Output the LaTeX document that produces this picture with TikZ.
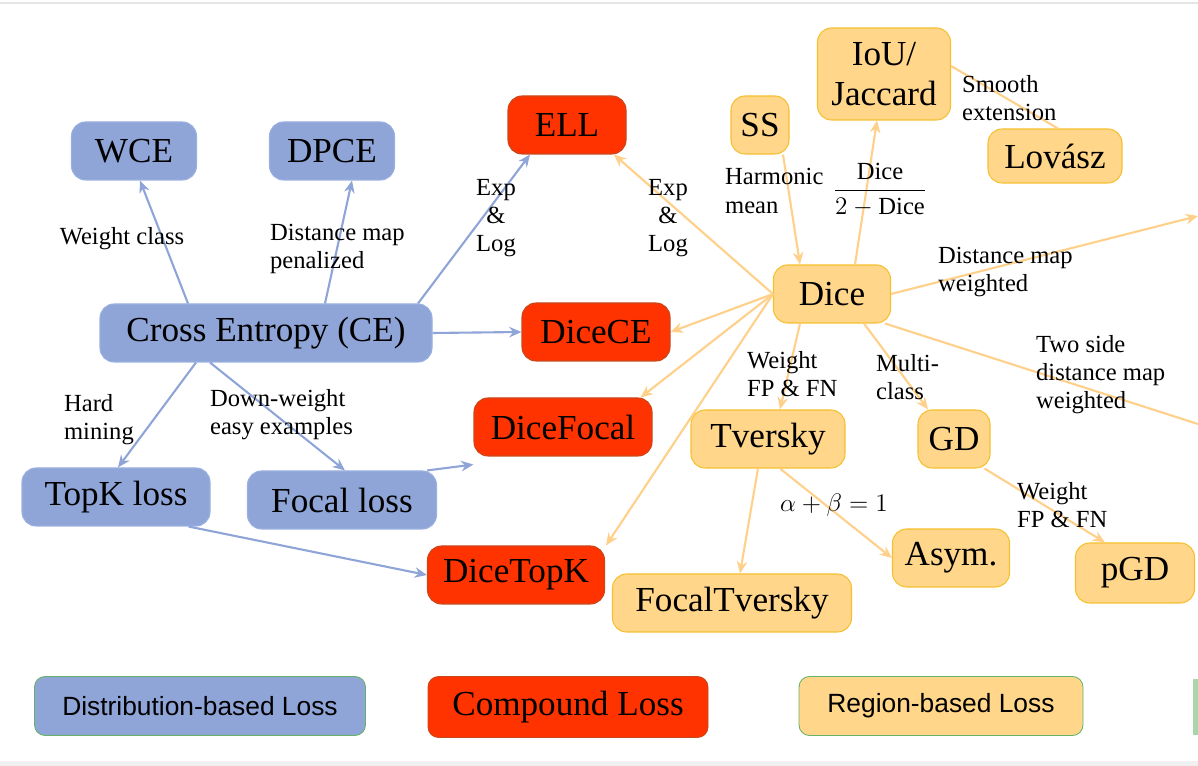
\documentclass[tikz,border=0pt]{standalone}
\usepackage{fontspec}
\usetikzlibrary{arrows.meta}
\setmainfont{Liberation Serif}
\newfontfamily\legsans{Liberation Sans}
\definecolor{bfill}{HTML}{8FA5D8}
\definecolor{bdraw}{HTML}{9AB0E0}
\definecolor{rfill}{HTML}{FF3300}
\definecolor{rdraw}{HTML}{C8481C}
\definecolor{ofill}{HTML}{FFD68A}
\definecolor{odraw}{HTML}{F5C030}
\definecolor{bline}{HTML}{8FA5D8}
\definecolor{oline}{HTML}{FFD08A}
\begin{document}
\begin{tikzpicture}[x=0.02cm,y=-0.02cm,
  bx/.style={rounded corners=8pt,minimum height=58*0.02cm,inner sep=2pt,font=\fontsize{20}{22}\selectfont,line width=0.6pt},
  blu/.style={bx,fill=bfill,draw=bdraw},
  red/.style={bx,fill=rfill,draw=rdraw},
  org/.style={bx,fill=ofill,draw=odraw},
  lab/.style={font=\fontsize{14}{16}\selectfont,align=left,inner sep=1pt},
  be/.style={draw=bline,line width=1.2pt,-{Stealth[length=7pt,width=6pt]}},
  oe/.style={draw=oline,line width=1.2pt,-{Stealth[length=7pt,width=6pt]}},
  leg/.style={rounded corners=6pt,minimum height=59*0.02cm,draw=green!50!black!60,line width=0.5pt}]
\useasboundingbox (0,0) rectangle (1198,766);
\draw[gray!20,line width=1pt] (0,3) -- (1198,3);
\fill[gray!12] (0,761) rectangle (1198,766);
% blue
\node[blu,minimum width=125*0.02cm] (wce) at (134,151) {WCE};
\node[blu,minimum width=125*0.02cm] (dpce) at (332,151) {DPCE};
\node[blu,minimum width=332*0.02cm] (ce) at (266,333) {Cross Entropy (CE)};
\node[blu,minimum width=188*0.02cm] (topk) at (116,497) {TopK loss};
\node[blu,minimum width=189*0.02cm] (focal) at (342,500) {Focal loss};
% red
\node[red,minimum width=118*0.02cm] (ell) at (567,125) {ELL};
\node[red,minimum width=148*0.02cm] (dicece) at (596,332) {DiceCE};
\node[red,minimum width=178*0.02cm] (dicefocal) at (563,427) {DiceFocal};
\node[red,minimum width=177*0.02cm] (dicetopk) at (516,575) {DiceTopK};
% orange
\node[org,minimum width=58*0.02cm] (ss) at (760,125) {SS};
\node[org,minimum width=133*0.02cm,minimum height=92*0.02cm,align=center,font=\fontsize{20}{23}\selectfont] (iou) at (884,74) {IoU/\\Jaccard};
\node[org,minimum width=134*0.02cm,minimum height=54*0.02cm] (lov) at (1055,156) {Lovász};
\node[org,minimum width=117*0.02cm] (dice) at (832,294) {Dice};
\node[org,minimum width=154*0.02cm] (tv) at (768,439) {Tversky};
\node[org,minimum width=72*0.02cm] (gd) at (954,439) {GD};
\node[org,minimum width=117*0.02cm] (asym) at (951,558) {Asym.};
\node[org,minimum width=119*0.02cm,minimum height=60*0.02cm] (pgd) at (1135,573) {pGD};
\node[org,minimum width=239*0.02cm] (ftv) at (732,603) {FocalTversky};
% legend
\node[leg,fill=bfill,minimum width=331*0.02cm,font=\legsans\fontsize{15}{17}\selectfont] (l1) at (200,706) {Distribution-based Loss};
\node[leg,fill=rfill,draw=rdraw,minimum width=280*0.02cm,minimum height=61*0.02cm,font=\fontsize{20}{22}\selectfont] (l2) at (568,707) {Compound Loss};
\node[leg,fill=ofill,minimum width=284*0.02cm,font=\legsans\fontsize{15}{17}\selectfont] (l3) at (941,706) {Region-based Loss};
\fill[green!35!gray!50] (1193,679) rectangle (1198,735);
% blue edges
\draw[be] ([xshift=-78*0.02cm]ce.north) -- ([xshift=6*0.02cm]wce.south);
\draw[be] ([xshift=59*0.02cm]ce.north) -- ([xshift=20*0.02cm]dpce.south);
\draw[be] ([xshift=152*0.02cm]ce.north) -- ([xshift=-37*0.02cm]ell.south);
\draw[be] (ce.east) -- (dicece.west);
\draw[be] ([xshift=-70*0.02cm]ce.south) -- ([xshift=2*0.02cm]topk.north);
\draw[be] ([xshift=-56*0.02cm]ce.south) -- ([xshift=3*0.02cm]focal.north);
\draw[be] ([xshift=-10*0.02cm]focal.north east) -- ([yshift=-8*0.02cm]dicefocal.south west);
\draw[be] ([xshift=-22*0.02cm]topk.south east) -- (dicetopk.west);
% orange edges
\draw[oe] ([xshift=23*0.02cm]ss.south) -- ([xshift=-32*0.02cm]dice.north);
\draw[oe] ([xshift=23*0.02cm]dice.north) -- ([xshift=-7*0.02cm]iou.south);
\draw[draw=oline,line width=1.2pt] ([yshift=8*0.02cm]iou.east) -- ([xshift=3*0.02cm]lov.north);
\draw[oe] (dice.west) -- ([xshift=47*0.02cm]ell.south);
\draw[oe] (dice.west) -- (dicece.east);
\draw[oe] (dice.west) -- ([xshift=-12*0.02cm]dicefocal.north east);
\draw[oe] (dice.west) -- ([xshift=1*0.02cm]dicetopk.north east);
\coordinate (r1) at (1198,216);
\coordinate (r2) at (1198,424);
\draw[oe] (dice.east) -- (r1);
\draw[draw=oline,line width=1.2pt] ([xshift=-6*0.02cm]dice.south east) -- (r2);
\draw[oe] ([xshift=-32*0.02cm]dice.south) -- ([xshift=12*0.02cm]tv.north);
\draw[oe] ([xshift=32*0.02cm]dice.south) -- ([xshift=-26*0.02cm]gd.north);
\draw[oe] ([xshift=-10*0.02cm]tv.south) -- ([xshift=8*0.02cm]ftv.north);
\draw[oe] ([xshift=12*0.02cm]tv.south) -- (asym.west);
\draw[oe] ([xshift=-6*0.02cm]gd.south east) -- ([xshift=-30*0.02cm]pgd.north);
% labels
\node[lab] (t1) at (122,239) {Weight class};
\node[lab,anchor=west] (t2) at (268,249) {Distance map\\penalized};
\node[lab,align=center] (t3) at (496,218) {Exp\\\&\\Log};
\node[lab,align=center] (t4) at (668,218) {Exp\\\&\\Log};
\node[lab,anchor=west] (t5) at (62,420) {Hard\\mining};
\node[lab,anchor=west] (t6) at (208,415) {Down-weight\\easy examples};
\node[lab,anchor=west] (t7) at (723,191) {Harmonic\\mean};
\node[font=\fontsize{14}{16}\selectfont] (t8) at (880,190) {$\displaystyle\frac{\mathrm{Dice}}{2-\mathrm{Dice}}$};
\node[lab,anchor=west] (t9) at (960,98) {Smooth\\extension};
\node[lab,anchor=west] (t10) at (936,272) {Distance map\\weighted};
\node[lab,anchor=west] (t11) at (1034,375) {Two side\\distance map\\weighted};
\node[lab,anchor=west] (t12) at (745,374) {Weight\\FP \& FN};
\node[lab,anchor=west] (t13) at (874,377) {Multi-\\class};
\node[lab,anchor=west] (t14) at (1015,505) {Weight\\FP \& FN};
\node[font=\fontsize{14}{16}\selectfont] (t15) at (834,505) {$\alpha+\beta=1$};
\end{tikzpicture}
\end{document}
